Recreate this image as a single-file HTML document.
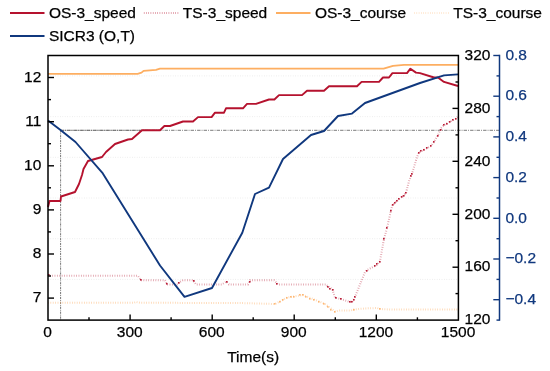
<!DOCTYPE html>
<html lang="en"><head><meta charset="utf-8"><title>chart</title>
<style>
html,body{margin:0;padding:0;background:#fff;}
body{width:550px;height:371px;overflow:hidden;}
svg{display:block;}
text{font-family:"Liberation Sans",Arial,sans-serif;font-size:15.5px;fill:#000;stroke:#000;stroke-width:0.25px;}
.b{fill:#10387e;stroke:#10387e;}
</style></head><body>
<svg width="550" height="371" viewBox="0 0 550 371">
<rect width="550" height="371" fill="#fff"/>

<line x1="48.0" y1="75.9" x2="458.4" y2="75.9" stroke="#c8c8c8" stroke-width="1" stroke-dasharray="0.8 1.6" opacity="0.38"/>
<line x1="48.0" y1="116.6" x2="458.4" y2="116.6" stroke="#c8c8c8" stroke-width="1" stroke-dasharray="0.8 1.6" opacity="0.38"/>
<line x1="48.0" y1="157.3" x2="458.4" y2="157.3" stroke="#c8c8c8" stroke-width="1" stroke-dasharray="0.8 1.6" opacity="0.38"/>
<line x1="48.0" y1="198.0" x2="458.4" y2="198.0" stroke="#c8c8c8" stroke-width="1" stroke-dasharray="0.8 1.6" opacity="0.38"/>
<line x1="48.0" y1="238.7" x2="458.4" y2="238.7" stroke="#c8c8c8" stroke-width="1" stroke-dasharray="0.8 1.6" opacity="0.38"/>
<line x1="48.0" y1="279.4" x2="458.4" y2="279.4" stroke="#c8c8c8" stroke-width="1" stroke-dasharray="0.8 1.6" opacity="0.38"/>
<line x1="60.6" y1="130.3" x2="499.5" y2="130.3" stroke="#444" stroke-width="0.7" stroke-dasharray="3.4 1.1 0.9 1.1"/>
<line x1="60.6" y1="130.3" x2="150" y2="130.3" stroke="#444" stroke-width="0.8" stroke-dasharray="1 1"/>
<line x1="60.6" y1="130.3" x2="60.6" y2="320.1" stroke="#777" stroke-width="1" stroke-dasharray="2.2 0.9 0.9 0.9"/>
<polyline points="48.0,302.8 134.0,302.8 136.0,302.0 140.0,302.8 240.0,303.0 275.0,304.0 287.0,297.6 303.0,295.0 318.0,301.0 325.0,304.0 335.0,311.4 340.0,310.4 351.0,310.4 354.0,309.4 366.0,308.4 377.0,308.0 380.0,309.0 392.0,309.6 458.0,309.6" fill="none" stroke="#fdae61" stroke-width="2" stroke-dasharray="0.8 1.6" opacity="0.5"/>
<polyline points="48.0,274.5 49.0,275.8 138.0,275.8 141.0,280.2 165.0,280.2 167.0,284.4 178.0,284.4 179.0,282.4 183.0,280.2 193.0,280.2 196.0,284.4 222.0,284.4 226.4,281.6 229.0,284.4 248.0,284.4 250.0,280.2 274.0,280.2 278.0,284.4 326.0,284.4 328.0,286.4 332.4,289.4 335.0,297.6 340.0,298.8 349.0,301.6 352.0,302.0 355.0,297.0 365.0,272.0 367.0,270.0 377.0,265.0 380.0,261.0 384.0,239.0 387.0,228.0 391.0,210.4 392.4,205.0 406.0,193.0 409.0,181.0 412.0,174.0 417.0,157.0 419.0,152.4 431.0,146.0 434.0,142.0 438.0,135.0 441.0,128.0 444.0,125.0 456.0,118.4 458.0,117.0" fill="none" stroke="#b5122e" stroke-width="2" stroke-dasharray="0.8 1.6" opacity="0.42"/>
<rect x="274" y="303" width="1.6" height="1.6" fill="#fdae61" opacity="0.85"/><rect x="279" y="301" width="1.6" height="1.6" fill="#fdae61" opacity="0.85"/><rect x="282" y="299" width="1.6" height="1.6" fill="#fdae61" opacity="0.85"/><rect x="286" y="297" width="1.6" height="1.6" fill="#fdae61" opacity="0.85"/><rect x="290" y="296" width="1.6" height="1.6" fill="#fdae61" opacity="0.85"/><rect x="293" y="296" width="1.6" height="1.6" fill="#fdae61" opacity="0.85"/><rect x="299" y="294" width="1.6" height="1.6" fill="#fdae61" opacity="0.85"/><rect x="302" y="294" width="1.6" height="1.6" fill="#fdae61" opacity="0.85"/><rect x="305" y="296" width="1.6" height="1.6" fill="#fdae61" opacity="0.85"/><rect x="309" y="298" width="1.6" height="1.6" fill="#fdae61" opacity="0.85"/><rect x="313" y="299" width="1.6" height="1.6" fill="#fdae61" opacity="0.85"/><rect x="318" y="301" width="1.6" height="1.6" fill="#fdae61" opacity="0.85"/><rect x="323" y="303" width="1.6" height="1.6" fill="#fdae61" opacity="0.85"/><rect x="327" y="306" width="1.6" height="1.6" fill="#fdae61" opacity="0.85"/><rect x="330" y="309" width="1.6" height="1.6" fill="#fdae61" opacity="0.85"/><rect x="334" y="311" width="1.6" height="1.6" fill="#fdae61" opacity="0.85"/><rect x="353" y="309" width="1.6" height="1.6" fill="#fdae61" opacity="0.85"/><rect x="379" y="308" width="1.6" height="1.6" fill="#fdae61" opacity="0.85"/>
<rect x="48" y="274" width="1.6" height="1.6" fill="#b5122e" opacity="0.95"/><rect x="140" y="279" width="1.6" height="1.6" fill="#b5122e" opacity="0.95"/><rect x="166" y="283" width="1.6" height="1.6" fill="#b5122e" opacity="0.95"/><rect x="178" y="282" width="1.6" height="1.6" fill="#b5122e" opacity="0.95"/><rect x="193" y="280" width="1.6" height="1.6" fill="#b5122e" opacity="0.95"/><rect x="226" y="281" width="1.6" height="1.6" fill="#b5122e" opacity="0.95"/><rect x="249" y="281" width="1.6" height="1.6" fill="#b5122e" opacity="0.95"/><rect x="276" y="283" width="1.6" height="1.6" fill="#b5122e" opacity="0.95"/><rect x="327" y="286" width="1.6" height="1.6" fill="#b5122e" opacity="0.95"/><rect x="329" y="288" width="1.6" height="1.6" fill="#b5122e" opacity="0.95"/><rect x="332" y="289" width="1.6" height="1.6" fill="#b5122e" opacity="0.95"/><rect x="335" y="297" width="1.6" height="1.6" fill="#b5122e" opacity="0.95"/><rect x="340" y="298" width="1.6" height="1.6" fill="#b5122e" opacity="0.95"/><rect x="349" y="301" width="1.6" height="1.6" fill="#b5122e" opacity="0.95"/><rect x="351" y="301" width="1.6" height="1.6" fill="#b5122e" opacity="0.95"/><rect x="353" y="299" width="1.6" height="1.6" fill="#b5122e" opacity="0.95"/><rect x="354" y="296" width="1.6" height="1.6" fill="#b5122e" opacity="0.95"/><rect x="366" y="270" width="1.6" height="1.6" fill="#b5122e" opacity="0.95"/><rect x="374" y="265" width="1.6" height="1.6" fill="#b5122e" opacity="0.95"/><rect x="376" y="263" width="1.6" height="1.6" fill="#b5122e" opacity="0.95"/><rect x="379" y="261" width="1.6" height="1.6" fill="#b5122e" opacity="0.95"/><rect x="383" y="238" width="1.6" height="1.6" fill="#b5122e" opacity="0.95"/><rect x="386" y="227" width="1.6" height="1.6" fill="#b5122e" opacity="0.95"/><rect x="390" y="210" width="1.6" height="1.6" fill="#b5122e" opacity="0.95"/><rect x="392" y="204" width="1.6" height="1.6" fill="#b5122e" opacity="0.95"/><rect x="394" y="202" width="1.6" height="1.6" fill="#b5122e" opacity="0.95"/><rect x="396" y="200" width="1.6" height="1.6" fill="#b5122e" opacity="0.95"/><rect x="398" y="198" width="1.6" height="1.6" fill="#b5122e" opacity="0.95"/><rect x="401" y="196" width="1.6" height="1.6" fill="#b5122e" opacity="0.95"/><rect x="403" y="195" width="1.6" height="1.6" fill="#b5122e" opacity="0.95"/><rect x="405" y="192" width="1.6" height="1.6" fill="#b5122e" opacity="0.95"/><rect x="410" y="175" width="1.6" height="1.6" fill="#b5122e" opacity="0.95"/><rect x="411" y="173" width="1.6" height="1.6" fill="#b5122e" opacity="0.95"/><rect x="418" y="152" width="1.6" height="1.6" fill="#b5122e" opacity="0.95"/><rect x="420" y="150" width="1.6" height="1.6" fill="#b5122e" opacity="0.95"/><rect x="423" y="149" width="1.6" height="1.6" fill="#b5122e" opacity="0.95"/><rect x="426" y="147" width="1.6" height="1.6" fill="#b5122e" opacity="0.95"/><rect x="430" y="145" width="1.6" height="1.6" fill="#b5122e" opacity="0.95"/><rect x="433" y="141" width="1.6" height="1.6" fill="#b5122e" opacity="0.95"/><rect x="437" y="135" width="1.6" height="1.6" fill="#b5122e" opacity="0.95"/><rect x="440" y="129" width="1.6" height="1.6" fill="#b5122e" opacity="0.95"/><rect x="443" y="124" width="1.6" height="1.6" fill="#b5122e" opacity="0.95"/><rect x="446" y="123" width="1.6" height="1.6" fill="#b5122e" opacity="0.95"/><rect x="449" y="121" width="1.6" height="1.6" fill="#b5122e" opacity="0.95"/><rect x="452" y="119" width="1.6" height="1.6" fill="#b5122e" opacity="0.95"/><rect x="455" y="118" width="1.6" height="1.6" fill="#b5122e" opacity="0.95"/>
<polyline points="48.0,73.8 137.6,73.8 141.5,72.7 143.6,70.8 156.0,69.8 160.0,68.6 383.6,68.6 393.0,65.8 404.0,64.8 458.4,64.8" fill="none" stroke="#fdae61" stroke-width="1.8" stroke-linejoin="round"/>
<polyline points="48.0,207.0 49.5,201.0 60.5,201.0 61.0,196.5 75.0,192.0 79.0,184.0 82.0,175.0 83.5,169.0 88.0,161.0 102.0,157.0 106.0,152.0 115.0,144.0 128.0,139.5 132.0,139.0 142.0,130.3 160.0,130.3 164.4,126.0 170.0,126.0 183.0,121.5 193.0,121.5 198.0,117.1 211.6,117.1 215.0,112.7 224.0,112.7 226.0,108.3 243.0,108.3 247.0,103.9 256.0,103.9 269.0,99.5 274.4,99.5 279.0,95.1 302.0,95.1 307.0,90.7 324.0,90.7 329.0,86.3 357.0,86.3 361.6,81.9 379.0,81.9 383.0,77.5 389.0,77.5 392.4,73.1 407.0,73.1 410.4,68.7 416.0,72.6 420.0,73.1 434.0,77.5 438.0,77.5 444.0,81.9 458.0,86.0" fill="none" stroke="#b5122e" stroke-width="1.9" stroke-linejoin="round"/>
<polyline points="48.0,120.5 60.5,130.0 75.5,142.0 102.2,172.6 160.0,265.5 184.5,296.8 212.0,288.0 242.3,232.7 255.0,194.0 269.0,187.6 283.0,159.0 311.0,135.0 324.0,131.0 338.0,116.0 352.0,113.6 365.0,103.0 420.0,83.0 444.0,75.4 458.0,74.4" fill="none" stroke="#10387e" stroke-width="1.9" stroke-linejoin="round"/>
<rect x="48.0" y="55.5" width="410.4" height="264.6" fill="none" stroke="#000" stroke-width="1.5"/>
<line x1="48.0" y1="298.1" x2="54.0" y2="298.1" stroke="#000" stroke-width="1.4"/>
<text transform="translate(41.3 302.3) scale(1 1.0)" text-anchor="end">7</text>
<line x1="48.0" y1="276.0" x2="51.0" y2="276.0" stroke="#000" stroke-width="1.4"/>
<line x1="48.0" y1="254.0" x2="54.0" y2="254.0" stroke="#000" stroke-width="1.4"/>
<text transform="translate(41.3 258.2) scale(1 1.0)" text-anchor="end">8</text>
<line x1="48.0" y1="231.9" x2="51.0" y2="231.9" stroke="#000" stroke-width="1.4"/>
<line x1="48.0" y1="209.9" x2="54.0" y2="209.9" stroke="#000" stroke-width="1.4"/>
<text transform="translate(41.3 214.1) scale(1 1.0)" text-anchor="end">9</text>
<line x1="48.0" y1="187.8" x2="51.0" y2="187.8" stroke="#000" stroke-width="1.4"/>
<line x1="48.0" y1="165.8" x2="54.0" y2="165.8" stroke="#000" stroke-width="1.4"/>
<text transform="translate(41.3 169.9) scale(1 1.0)" text-anchor="end">10</text>
<line x1="48.0" y1="143.7" x2="51.0" y2="143.7" stroke="#000" stroke-width="1.4"/>
<line x1="48.0" y1="121.7" x2="54.0" y2="121.7" stroke="#000" stroke-width="1.4"/>
<text transform="translate(41.3 125.9) scale(1 1.0)" text-anchor="end">11</text>
<line x1="48.0" y1="99.6" x2="51.0" y2="99.6" stroke="#000" stroke-width="1.4"/>
<line x1="48.0" y1="77.5" x2="54.0" y2="77.5" stroke="#000" stroke-width="1.4"/>
<text transform="translate(41.3 81.8) scale(1 1.0)" text-anchor="end">12</text>
<text transform="translate(47.6 337.2) scale(1 1.0)" text-anchor="middle">0</text>
<line x1="89.0" y1="320.1" x2="89.0" y2="317.3" stroke="#000" stroke-width="1.4"/>
<line x1="130.1" y1="320.1" x2="130.1" y2="314.6" stroke="#000" stroke-width="1.4"/>
<text transform="translate(129.7 337.2) scale(1 1.0)" text-anchor="middle">300</text>
<line x1="171.1" y1="320.1" x2="171.1" y2="317.3" stroke="#000" stroke-width="1.4"/>
<line x1="212.2" y1="320.1" x2="212.2" y2="314.6" stroke="#000" stroke-width="1.4"/>
<text transform="translate(211.8 337.2) scale(1 1.0)" text-anchor="middle">600</text>
<line x1="253.2" y1="320.1" x2="253.2" y2="317.3" stroke="#000" stroke-width="1.4"/>
<line x1="294.2" y1="320.1" x2="294.2" y2="314.6" stroke="#000" stroke-width="1.4"/>
<text transform="translate(293.8 337.2) scale(1 1.0)" text-anchor="middle">900</text>
<line x1="335.3" y1="320.1" x2="335.3" y2="317.3" stroke="#000" stroke-width="1.4"/>
<line x1="376.3" y1="320.1" x2="376.3" y2="314.6" stroke="#000" stroke-width="1.4"/>
<text transform="translate(375.9 337.2) scale(1 1.0)" text-anchor="middle">1200</text>
<line x1="417.4" y1="320.1" x2="417.4" y2="317.3" stroke="#000" stroke-width="1.4"/>
<text transform="translate(458.0 337.2) scale(1 1.0)" text-anchor="middle">1500</text>
<text transform="translate(464.6 324.3) scale(1 1.0)">120</text>
<line x1="458.4" y1="293.6" x2="455.5" y2="293.6" stroke="#000" stroke-width="1.4"/>
<line x1="458.4" y1="267.2" x2="452.5" y2="267.2" stroke="#000" stroke-width="1.4"/>
<text transform="translate(464.6 271.4) scale(1 1.0)">160</text>
<line x1="458.4" y1="240.7" x2="455.5" y2="240.7" stroke="#000" stroke-width="1.4"/>
<line x1="458.4" y1="214.3" x2="452.5" y2="214.3" stroke="#000" stroke-width="1.4"/>
<text transform="translate(464.6 218.5) scale(1 1.0)">200</text>
<line x1="458.4" y1="187.8" x2="455.5" y2="187.8" stroke="#000" stroke-width="1.4"/>
<line x1="458.4" y1="161.3" x2="452.5" y2="161.3" stroke="#000" stroke-width="1.4"/>
<text transform="translate(464.6 165.5) scale(1 1.0)">240</text>
<line x1="458.4" y1="134.9" x2="455.5" y2="134.9" stroke="#000" stroke-width="1.4"/>
<line x1="458.4" y1="108.4" x2="452.5" y2="108.4" stroke="#000" stroke-width="1.4"/>
<text transform="translate(464.6 112.6) scale(1 1.0)">280</text>
<line x1="458.4" y1="82.0" x2="455.5" y2="82.0" stroke="#000" stroke-width="1.4"/>
<text transform="translate(464.6 59.7) scale(1 1.0)">320</text>
<line x1="499.5" y1="54.8" x2="499.5" y2="320.8" stroke="#10387e" stroke-width="1.5"/>
<line x1="499.5" y1="320.1" x2="496.5" y2="320.1" stroke="#10387e" stroke-width="1.4"/>
<line x1="499.5" y1="299.7" x2="493.3" y2="299.7" stroke="#10387e" stroke-width="1.4"/>
<text transform="translate(505.4 303.9) scale(1 1.0)" class="b">−0.4</text>
<line x1="499.5" y1="279.4" x2="496.5" y2="279.4" stroke="#10387e" stroke-width="1.4"/>
<line x1="499.5" y1="259.0" x2="493.3" y2="259.0" stroke="#10387e" stroke-width="1.4"/>
<text transform="translate(505.4 263.2) scale(1 1.0)" class="b">−0.2</text>
<line x1="499.5" y1="238.7" x2="496.5" y2="238.7" stroke="#10387e" stroke-width="1.4"/>
<line x1="499.5" y1="218.3" x2="493.3" y2="218.3" stroke="#10387e" stroke-width="1.4"/>
<text transform="translate(505.4 222.5) scale(1 1.0)" class="b">0.0</text>
<line x1="499.5" y1="198.0" x2="496.5" y2="198.0" stroke="#10387e" stroke-width="1.4"/>
<line x1="499.5" y1="177.6" x2="493.3" y2="177.6" stroke="#10387e" stroke-width="1.4"/>
<text transform="translate(505.4 181.8) scale(1 1.0)" class="b">0.2</text>
<line x1="499.5" y1="157.3" x2="496.5" y2="157.3" stroke="#10387e" stroke-width="1.4"/>
<line x1="499.5" y1="136.9" x2="493.3" y2="136.9" stroke="#10387e" stroke-width="1.4"/>
<text transform="translate(505.4 141.1) scale(1 1.0)" class="b">0.4</text>
<line x1="499.5" y1="116.6" x2="496.5" y2="116.6" stroke="#10387e" stroke-width="1.4"/>
<line x1="499.5" y1="96.2" x2="493.3" y2="96.2" stroke="#10387e" stroke-width="1.4"/>
<text transform="translate(505.4 100.4) scale(1 1.0)" class="b">0.6</text>
<line x1="499.5" y1="75.9" x2="496.5" y2="75.9" stroke="#10387e" stroke-width="1.4"/>
<line x1="499.5" y1="55.5" x2="493.3" y2="55.5" stroke="#10387e" stroke-width="1.4"/>
<text transform="translate(505.4 59.7) scale(1 1.0)" class="b">0.8</text>
<text transform="translate(253.2 362.3) scale(1 1.0)" text-anchor="middle">Time(s)</text>
<line x1="10" y1="12.9" x2="44.5" y2="12.9" stroke="#b5122e" stroke-width="2"/>
<text transform="translate(48.9 17.9) scale(1 1.0)">OS-3_speed</text>
<line x1="143.9" y1="12.9" x2="178.4" y2="12.9" stroke="#b5122e" stroke-width="2" stroke-dasharray="0.55 1.7" opacity="0.62"/>
<text transform="translate(182.8 17.9) scale(1 1.0)">TS-3_speed</text>
<line x1="276" y1="12.9" x2="310.5" y2="12.9" stroke="#fdae61" stroke-width="2"/>
<text transform="translate(314.9 17.9) scale(1 1.0)">OS-3_course</text>
<line x1="414.3" y1="12.9" x2="448.8" y2="12.9" stroke="#fdae61" stroke-width="2" stroke-dasharray="0.55 1.7" opacity="0.42"/>
<text transform="translate(453.2 17.9) scale(1 1.0)">TS-3_course</text>
<line x1="10" y1="36" x2="44.5" y2="36" stroke="#10387e" stroke-width="2"/>
<text transform="translate(48.9 41.0) scale(1 1.0)">SICR3 (O,T)</text>
</svg></body></html>
